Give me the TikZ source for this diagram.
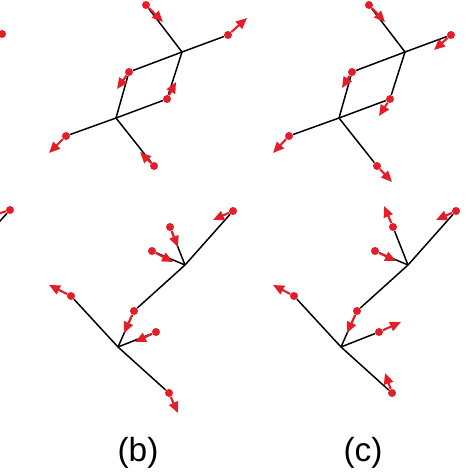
\documentclass[tikz,border=0pt]{standalone}
\usepackage{fontspec}
\setmainfont{Liberation Sans}
\usetikzlibrary{arrows.meta}
\definecolor{dotred}{RGB}{228,30,40}
\tikzset{
    dot/.style={circle, fill=dotred, inner sep=0pt, minimum size=0.16cm},
    bond/.style={line width=0.85pt, black},
    vec/.style={dotred, line width=1.2pt, -{Triangle[length=0.22cm, width=0.19cm]}},
}
\begin{document}
\begin{tikzpicture}[x=0.02cm, y=-0.02cm]
        \useasboundingbox (0,0) rectangle (474,474);

        % Panel (a), cut off at the left edge
        \node[dot] (a1) at (2,34) {};
        \node[dot] (a2) at (10,210) {};
        \coordinate (a2-end) at (-10,232);
        \coordinate (a2t) at (-12,217);
        \draw[bond] (a2) -- (a2-end);
        \draw[vec] (a2) -- (a2t);

        % Skeletons of panels (b) and (c)
        \foreach \p/\dx in {b/0, c/223}{
            \begin{scope}[shift={(\dx,0)}]
                % upper molecule
                \coordinate (\p-j1) at (182,52);
                \coordinate (\p-j2) at (116,118);
                \node[dot] (\p1) at (146,5) {};
                \node[dot] (\p2) at (228,35) {};
                \node[dot] (\p3) at (129,72) {};
                \node[dot] (\p4) at (167,99) {};
                \node[dot] (\p5) at (66,136) {};
                \node[dot] (\p6) at (154,166) {};
                % lower molecule
                \coordinate (\p-j3) at (185,265);
                \coordinate (\p-j4) at (118,347);
                \node[dot] (\p7) at (233,211) {};
                \node[dot] (\p8) at (170,227) {};
                \node[dot] (\p9) at (152,251) {};
                \node[dot] (\p10) at (134,311) {};
                \node[dot] (\p11) at (156,332) {};
                \node[dot] (\p12) at (71,296) {};
                \node[dot] (\p13) at (169,393) {};
            \end{scope}
            \foreach \a/\b in {1/-j1, 2/-j1, 3/-j1, 4/-j1, 3/-j2, 4/-j2, 5/-j2, 6/-j2,
                               7/-j3, 8/-j3, 9/-j3, 10/-j3, 10/-j4, 11/-j4, 12/-j4, 13/-j4}{
                \draw[bond] (\p\a) -- (\p\b);
            }
        }

        % Displacement arrows
        \foreach \n/\x/\y in {b1/163/22, b2/247/18, b3/117/89, b4/176/82, b5/49/153,
                              b6/140/152, b7/213/220, b8/178/247, b9/173/262, b10/124/333,
                              b11/135/342, b12/49/285, b13/178/413,
                              c1/385/22, c2/434/50, c3/342/88, c4/379/116, c5/273/153,
                              c6/392/182, c7/436/220, c8/384/206, c9/396/261, c10/347/333,
                              c11/401/322, c12/273/285, c13/385/373}{
            \coordinate (\n t) at (\x,\y);
            \draw[vec] (\n) -- (\n t);
        }

        % Labels
        \node[font=\fontsize{19}{22}\selectfont] (lb) at (138,453) {(b)};
        \node[font=\fontsize{19}{22}\selectfont] (lc) at (363,453) {(c)};
    \end{tikzpicture}
\end{document}
